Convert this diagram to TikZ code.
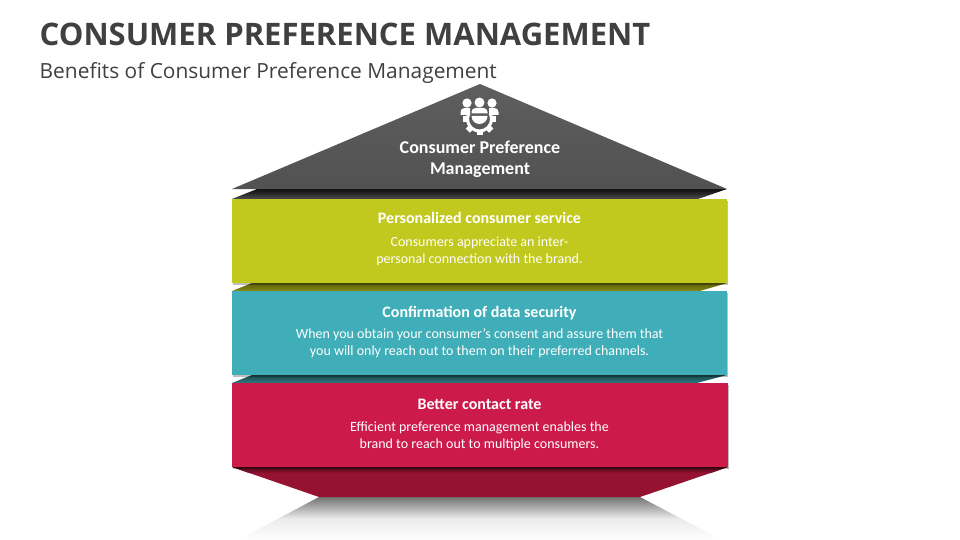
\documentclass[tikz,border=0pt]{standalone}
\usepackage{fontspec}
\setmainfont{Carlito}
\newfontfamily\titlefont{Open Sans}
\usepackage{tikz}
\usetikzlibrary{positioning,shadows,calc}
\definecolor{roofgray}{HTML}{595959}
\definecolor{inkgray}{HTML}{404040}
\definecolor{leafgreen}{HTML}{C1C91E}
\definecolor{seateal}{HTML}{40AEB8}
\definecolor{berryred}{HTML}{CC1B4B}
\definecolor{wine}{HTML}{961233}

\begin{document}
\begin{tikzpicture}[x=1pt,y=-1pt,
				tier/.style={minimum width=495pt, minimum height=84pt, inner sep=0pt, fill=#1,
					drop shadow={shadow xshift=1pt, shadow yshift=-1.5pt, opacity=.25, fill=black}},
				headtext/.style={text=white, font=\fontsize{16}{18}\selectfont\bfseries, inner sep=0pt},
				bodytext/.style={text=white, font=\fontsize{14}{17}\selectfont, align=center, inner sep=0pt}]
			\useasboundingbox (0,0) rectangle (960,540);
			\node[anchor=west, inner sep=0pt, text=inkgray, font=\titlefont\fontsize{31}{36}\selectfont\bfseries] (title) at (39.5,34) {CONSUMER PREFERENCE MANAGEMENT};
			\node[anchor=west, inner sep=0pt, text=inkgray, font=\titlefont\fontsize{20.9}{24}\selectfont] (subtitle) at (39.5,73.5) {Benefits of Consumer Preference Management};
			% floor shadow
			\shade[top color=black!55, bottom color=white, middle color=black!8] (319,497) -- (640,497) -- (722,540) -- (238,540) -- cycle;
			% folds between the tiers
			\shade[top color=black!85!roofgray, bottom color=roofgray!85!black] (257,189) -- (727,189) -- (698,199) -- (232,199) -- cycle;
			\shade[top color=leafgreen!45!black, bottom color=leafgreen!70!black] (252,283) -- (727,283) -- (700,291) -- (232,291) -- cycle;
			\shade[top color=seateal!40!black, bottom color=seateal!70!black] (252,375) -- (727,375) -- (697,383) -- (232,383) -- cycle;
			\fill[wine] (232,467) -- (728,467) -- (640,497) -- (319,497) -- cycle;
			\shade[top color=wine!45!black, bottom color=wine] (232,467) -- (728,467) -- (711,473) -- (249,473) -- cycle;
			% roof
			\shade[top color=roofgray!97!white, bottom color=roofgray!92!black] (480,84) -- (727,189) -- (232,189) -- cycle;
			% tiers
			\node[tier=leafgreen] (greenbox) at (479.5,241) {};
			\node[tier=seateal, below=8pt of greenbox] (tealbox) {};
			\node[tier=berryred, minimum width=496pt, below=7.5pt of tealbox] (redbox) {};
			% texts
			\node[text=white, font=\fontsize{18}{21.5}\selectfont\bfseries, align=center, inner sep=0pt] (rooftext) at (480,159.5) {Consumer Preference\\Management};
			\node[headtext, below=13pt of greenbox.north] (greenhead) {Personalized consumer service};
			\node[bodytext, below=38pt of greenbox.north] (greenbody) {Consumers appreciate an inter-\\personal connection with the brand.};
			\node[headtext, below=15pt of tealbox.north] (tealhead) {Confirmation of data security};
			\node[bodytext, below=37.5pt of tealbox.north] (tealbody) {When you obtain your consumer’s consent and assure them that\\you will only reach out to them on their preferred channels.};
			\node[headtext, below=16pt of redbox.north] (redhead) {Better contact rate};
			\node[bodytext, below=38pt of redbox.north] (redbody) {Efficient preference management enables the\\brand to reach out to multiple consumers.};
			% icon
			\begin{scope}
				\clip (455,115) rectangle (505,140);
				\fill[white, even odd rule] (479.5,119) circle (13.5) (479.5,119) circle (10.5);
				\foreach \a in {0,45,...,315}
					\fill[white, rotate around={\a:(479.5,119)}] (476.5,102.5) rectangle (482.5,107);
			\end{scope}
			\fill[white] (467,103) circle (4.6);
			\fill[white] (492,103) circle (4.6);
			\fill[white] (479.5,102.5) circle (5);
			\fill[white] (460.5,115) -- (460.5,112) arc[start angle=180, end angle=270, radius=4] -- (470,108) -- (470,115) -- cycle;
			\fill[white] (498.5,115) -- (498.5,112) arc[start angle=0, end angle=-90, radius=4] -- (489,108) -- (489,115) -- cycle;
			\fill[white] (471.5,113.5) -- (471.5,112) arc[start angle=180, end angle=270, radius=4] -- (483.5,108) arc[start angle=270, end angle=360, radius=4] -- (487.5,113.5) -- cycle;
			\fill[white] (471.5,116) -- (487.5,116) arc[start angle=0, end angle=180, radius=8] -- cycle;
		\end{tikzpicture}
\end{document}
